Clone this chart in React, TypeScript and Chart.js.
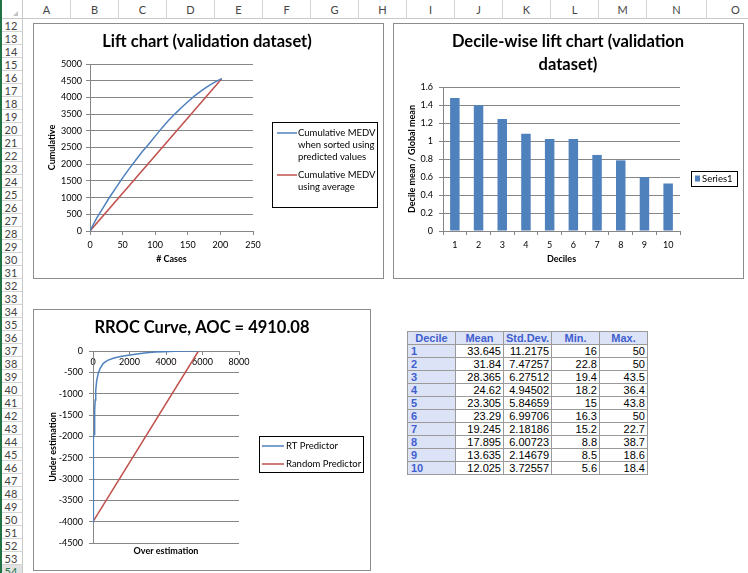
import React, { useEffect, useRef } from 'react';
import { Chart, registerables } from 'chart.js';

Chart.register(...registerables);

const FONT = 'Lato, "Noto Sans", sans-serif';
Chart.defaults.font.family = FONT;
Chart.defaults.color = '#000';

const GRID = '#868686';
const BLUE = '#4F81BD';
const RED = '#C0504D';
const TITLE_SIZE = 16.5;

// ---- Lift chart (validation dataset) ----
const LIFT_SERIES = ['Cumulative MEDV when sorted using predicted values', 'Cumulative MEDV using average'];
const LIFT_CASES = [0, 10, 20, 30, 40, 50, 60, 70, 80, 90, 100, 110, 120, 130, 140, 150, 160, 170, 180, 190, 202];
const LIFT_CUMULATIVE = [0, 380, 690, 1010, 1300, 1590, 1860, 2120, 2370, 2600, 2840, 3080, 3300, 3500, 3690, 3870, 4040, 4190, 4320, 4440, 4560];
const AVERAGE_CASES = [0, 202];
const AVERAGE_CUMULATIVE = [0, 4560];

// ---- Decile-wise lift chart ----
const DECILES = ['1', '2', '3', '4', '5', '6', '7', '8', '9', '10'];
const DECILE_LIFT = [1.477, 1.397, 1.245, 1.080, 1.023, 1.022, 0.845, 0.785, 0.598, 0.528];
const DECILE_SERIES = 'Series1';

// ---- RROC curve ----
const RROC_SERIES = ['RT Predictor', 'Random Predictor'];
const RT_OVER = [0, 0, 40, 60, 80, 100, 120, 150, 200, 290, 400, 565, 800, 1110, 1500, 2030, 2500, 2940, 3400, 3850, 4500, 5200, 5780];
const RT_UNDER = [-4000, -2400, -2050, -1950, -1700, -1400, -1150, -920, -700, -520, -400, -290, -220, -172, -130, -94, -62, -39, -25, -15, -7, -2, 0];
const RANDOM_OVER = [0, 5780];
const RANDOM_UNDER = [-4000, 0];

// ---- Decile summary table ----
const TABLE_HEADERS = ['Decile', 'Mean', 'Std.Dev.', 'Min.', 'Max.'];
const TABLE_DECILE = [1, 2, 3, 4, 5, 6, 7, 8, 9, 10];
const TABLE_MEAN = [33.645, 31.84, 28.365, 24.62, 23.305, 23.29, 19.245, 17.895, 13.635, 12.025];
const TABLE_STD = [11.2175, 7.47257, 6.27512, 4.94502, 5.84659, 6.99706, 2.18186, 6.00723, 2.14679, 3.72557];
const TABLE_MIN = [16, 22.8, 19.4, 18.2, 15, 16.3, 15.2, 8.8, 8.5, 5.6];
const TABLE_MAX = [50, 50, 43.5, 36.4, 43.8, 50, 22.7, 38.7, 18.6, 18.4];

// ---- Worksheet frame ----
const COLUMN_LETTERS = ['A', 'B', 'C', 'D', 'E', 'F', 'G', 'H', 'I', 'J', 'K', 'L', 'M', 'N', 'O'];
const COLUMN_EDGES = [23, 71, 119, 167, 215, 263, 311, 359, 407, 455, 503, 551, 599, 647, 707, 765];
const ROW_NUMBERS = Array.from({ length: 43 }, (_, i) => 12 + i);
const SELECTED_ROW = 54;

function wrapText(ctx: CanvasRenderingContext2D, text: string, maxWidth: number): string[] {
  const words = text.split(' ');
  const lines: string[] = [];
  let cur = '';
  for (const w of words) {
    const test = cur ? cur + ' ' + w : w;
    if (cur && ctx.measureText(test).width > maxWidth) {
      lines.push(cur);
      cur = w;
    } else {
      cur = test;
    }
  }
  if (cur) lines.push(cur);
  return lines;
}

// Draws the chart title and the boxed legend in the Excel style.
const chartDecor = {
  id: 'chartDecor',
  afterDraw(chart: any, _args: any, opts: any) {
    const ctx: CanvasRenderingContext2D = chart.ctx;
    ctx.save();
    ctx.textBaseline = 'middle';
    const t = opts.title;
    if (t) {
      ctx.fillStyle = '#000';
      ctx.font = `bold ${t.size}px ${FONT}`;
      ctx.textAlign = 'center';
      const lines: string[] = t.lines;
      for (let i = 0; i < lines.length; i++) ctx.fillText(lines[i], t.x, t.y + i * t.lineHeight);
    }
    const lg = opts.legend;
    if (lg) {
      ctx.lineWidth = 1;
      ctx.strokeStyle = '#000';
      ctx.strokeRect(lg.x + 0.5, lg.y + 0.5, lg.w, lg.h);
      ctx.font = `${lg.size}px ${FONT}`;
      ctx.textAlign = 'left';
      let y = lg.y + lg.first;
      chart.data.datasets.forEach((ds: any) => {
        const lines = wrapText(ctx, ds.label, lg.wrap);
        if (lg.marker === 'box') {
          ctx.fillStyle = ds.backgroundColor;
          ctx.fillRect(lg.x + lg.mx0, y - 3, lg.mx1 - lg.mx0, 6);
        } else {
          ctx.strokeStyle = ds.borderColor;
          ctx.lineWidth = 1.5;
          ctx.beginPath();
          ctx.moveTo(lg.x + lg.mx0, y);
          ctx.lineTo(lg.x + lg.mx1, y);
          ctx.stroke();
        }
        ctx.fillStyle = '#000';
        lines.forEach((ln, i) => ctx.fillText(ln, lg.x + lg.tx, y + i * lg.lineHeight));
        y += lines.length * lg.lineHeight + lg.gap;
      });
    }
    ctx.restore();
  },
};

const TICK_FONT = { size: 9 };
const AXIS_TITLE_FONT = { size: 9, weight: 'bold' as const };
const plain = (v: any) => String(v);

function liftConfig(): any {
  return {
    type: 'scatter',
    data: {
      datasets: [
        {
          label: LIFT_SERIES[0],
          data: LIFT_CASES.map((x, i) => ({ x, y: LIFT_CUMULATIVE[i] })),
          showLine: true, borderColor: BLUE, backgroundColor: BLUE, borderWidth: 1.5, pointRadius: 0,
        },
        {
          label: LIFT_SERIES[1],
          data: AVERAGE_CASES.map((x, i) => ({ x, y: AVERAGE_CUMULATIVE[i] })),
          showLine: true, borderColor: RED, backgroundColor: RED, borderWidth: 1.5, pointRadius: 0,
        },
      ],
    },
    options: {
      responsive: false, animation: false, devicePixelRatio: 1,
      layout: { padding: { left: 4, top: 40, right: 130, bottom: 4 } },
      plugins: {
        legend: { display: false }, title: { display: false }, tooltip: { enabled: false },
        chartDecor: {
          title: { lines: ['Lift chart (validation dataset)'], x: 173, y: 18, size: TITLE_SIZE, lineHeight: 23 },
          legend: { x: 238, y: 98, w: 105, h: 85, first: 11, size: 9.5, wrap: 78, lineHeight: 12, gap: 6, marker: 'line', mx0: 5, mx1: 25, tx: 26 },
        },
      },
      scales: {
        x: {
          type: 'linear', min: 0, max: 250,
          afterFit: (s: any) => { s.height = 43; },
          ticks: { stepSize: 50, padding: 5, font: TICK_FONT, callback: plain },
          grid: { drawOnChartArea: false, tickLength: 4, color: GRID },
          border: { color: GRID },
          title: { display: true, text: '# Cases', font: AXIS_TITLE_FONT, padding: { top: 0, bottom: 9.6 } },
        },
        y: {
          type: 'linear', min: 0, max: 5000,
          afterFit: (s: any) => { s.width = 52; },
          ticks: { stepSize: 500, padding: 4, font: TICK_FONT, callback: plain },
          grid: { color: GRID, tickLength: 4 },
          border: { color: GRID },
          title: { display: true, text: 'Cumulative', font: AXIS_TITLE_FONT, padding: { top: 8.6, bottom: 0 } },
        },
      },
    },
    plugins: [chartDecor],
  };
}

function decileConfig(): any {
  return {
    type: 'bar',
    data: {
      labels: DECILES,
      datasets: [
        { label: DECILE_SERIES, data: DECILE_LIFT, backgroundColor: BLUE, borderColor: BLUE, barPercentage: 0.4, categoryPercentage: 1 },
      ],
    },
    options: {
      responsive: false, animation: false, devicePixelRatio: 1,
      layout: { padding: { left: 4, top: 63, right: 63, bottom: 4 } },
      plugins: {
        legend: { display: false }, title: { display: false }, tooltip: { enabled: false },
        chartDecor: {
          title: { lines: ['Decile-wise lift chart (validation', 'dataset)'], x: 174, y: 18, size: TITLE_SIZE, lineHeight: 23 },
          legend: { x: 297, y: 147, w: 46, h: 15, first: 7.5, size: 9.5, wrap: 60, lineHeight: 12, gap: 0, marker: 'box', mx0: 4, mx1: 9, tx: 11 },
        },
      },
      scales: {
        x: {
          afterFit: (s: any) => { s.height = 43; },
          ticks: { padding: 4.5, font: TICK_FONT },
          grid: { offset: true, drawOnChartArea: false, tickLength: 4, color: GRID },
          border: { color: GRID },
          title: { display: true, text: 'Deciles', font: AXIS_TITLE_FONT, padding: { top: 0, bottom: 9.6 } },
        },
        y: {
          min: 0, max: 1.6,
          afterFit: (s: any) => { s.width = 45; },
          ticks: { stepSize: 0.2, padding: 6, font: TICK_FONT, callback: (v: number) => String(Math.round(v * 10) / 10) },
          grid: { color: GRID, tickLength: 4 },
          border: { color: GRID },
          title: { display: true, text: 'Decile mean / Global mean', font: AXIS_TITLE_FONT, padding: { top: 8.6, bottom: 0 } },
        },
      },
    },
    plugins: [chartDecor],
  };
}

function rrocConfig(): any {
  return {
    type: 'scatter',
    data: {
      datasets: [
        {
          label: RROC_SERIES[0],
          data: RT_OVER.map((x, i) => ({ x, y: RT_UNDER[i] })),
          showLine: true, borderColor: BLUE, backgroundColor: BLUE, borderWidth: 1.5, pointRadius: 0,
        },
        {
          label: RROC_SERIES[1],
          data: RANDOM_OVER.map((x, i) => ({ x, y: RANDOM_UNDER[i] })),
          showLine: true, borderColor: RED, backgroundColor: RED, borderWidth: 1.5, pointRadius: 0,
        },
      ],
    },
    options: {
      responsive: false, animation: false, devicePixelRatio: 1,
      layout: { padding: { left: 4, top: 41, right: 131, bottom: 4 } },
      plugins: {
        legend: { display: false }, title: { display: false }, tooltip: { enabled: false },
        chartDecor: {
          title: { lines: ['RROC Curve, AOC = 4910.08'], x: 168, y: 18, size: TITLE_SIZE, lineHeight: 23 },
          legend: { x: 225, y: 126, w: 104, h: 36, first: 10, size: 9.5, wrap: 80, lineHeight: 12, gap: 6, marker: 'line', mx0: 3, mx1: 25, tx: 27 },
        },
      },
      scales: {
        x: {
          type: 'linear', min: 0, max: 8000,
          afterFit: (s: any) => { s.height = 23; },
          ticks: { display: false, stepSize: 2000 },
          grid: { display: false },
          border: { display: false },
          title: { display: true, text: 'Over estimation', font: AXIS_TITLE_FONT, padding: { top: 0, bottom: 9.6 } },
        },
        xTop: {
          axis: 'x', type: 'linear', min: 0, max: 8000, position: { y: 0 },
          ticks: { stepSize: 2000, padding: 3, font: TICK_FONT, callback: plain },
          grid: { drawOnChartArea: false, tickLength: 3, color: GRID },
          border: { color: GRID },
        },
        y: {
          type: 'linear', min: -4500, max: 0,
          afterFit: (s: any) => { s.width = 55; },
          ticks: { stepSize: 500, padding: 6, font: TICK_FONT, callback: plain },
          grid: { color: GRID, tickLength: 4 },
          border: { color: GRID },
          title: { display: true, text: 'Under estimation', font: AXIS_TITLE_FONT, padding: { top: 9.6, bottom: 0 } },
        },
      },
    },
    plugins: [chartDecor],
  };
}

function ChartBox(props: { left: number; top: number; width: number; height: number; make: () => any }) {
  const { left, top, width, height, make } = props;
  const ref = useRef<HTMLCanvasElement>(null);
  useEffect(() => {
    const chart = new Chart(ref.current as HTMLCanvasElement, make());
    return () => chart.destroy();
  }, []);
  const cw = width - 2;
  const ch = height - 2;
  return (
    <div style={{ position: 'absolute', left, top, width, height, border: '1px solid #8c8c8c', boxSizing: 'border-box', background: '#fff' }}>
      <canvas ref={ref} width={cw} height={ch} style={{ display: 'block', width: cw, height: ch }} />
    </div>
  );
}

function SheetFrame() {
  const items: React.ReactNode[] = [];
  items.push(
    <div key="corner" style={{ position: 'absolute', left: 0, top: 0, width: 23, height: 19, borderRight: '1px solid #c8c8c8', borderBottom: '1px solid #c8c8c8', boxSizing: 'border-box' }}>
      <div style={{ position: 'absolute', left: 13, top: 11, width: 0, height: 0, borderLeft: '5px solid transparent', borderBottom: '5px solid #c4c4c4' }} />
    </div>
  );
  COLUMN_LETTERS.forEach((c, i) => {
    const l = COLUMN_EDGES[i];
    const r = COLUMN_EDGES[i + 1];
    items.push(
      <div key={c} style={{ position: 'absolute', left: l, top: 0, width: r - l, height: 19, borderRight: '1px solid #d4d4d4', borderBottom: '1px solid #c8c8c8', boxSizing: 'border-box', textAlign: 'center', fontSize: 11, lineHeight: '20px', color: '#444' }}>{c}</div>
    );
  });
  ROW_NUMBERS.forEach((r, i) => {
    const sel = r === SELECTED_ROW;
    items.push(
      <div key={'r' + r} style={{ position: 'absolute', left: 0, top: 19 + i * 13, width: 23, height: 13, borderRight: '1px solid #c8c8c8', borderBottom: '1px solid #d4d4d4', boxSizing: 'border-box', textAlign: 'center', fontSize: 11, lineHeight: '13px', color: sel ? '#217346' : '#444', background: sel ? '#e1e1e1' : '#fff' }}>{r}</div>
    );
  });
  items.push(<div key="edge" style={{ position: 'absolute', left: 0, top: 0, width: 2, height: 573, background: '#217346' }} />);
  return <>{items}</>;
}

function DecileTable() {
  const head = '#dde3f6';
  const blue = '#3f5fcf';
  const cell = (content: React.ReactNode, key: string, style: React.CSSProperties) => (
    <div key={key} style={{ borderRight: '1px solid #9a9a9a', borderBottom: '1px solid #9a9a9a', boxSizing: 'border-box', height: 13, lineHeight: '12px', whiteSpace: 'nowrap', overflow: 'hidden', ...style }}>{content}</div>
  );
  const cells: React.ReactNode[] = [];
  TABLE_HEADERS.forEach((h, i) => cells.push(cell(h, 'h' + i, { background: head, color: blue, fontWeight: 'bold', textAlign: 'center' })));
  TABLE_DECILE.forEach((d, i) => {
    cells.push(cell(d, 'd' + i, { background: head, color: blue, fontWeight: 'bold', textAlign: 'left', paddingLeft: 3 }));
    [TABLE_MEAN[i], TABLE_STD[i], TABLE_MIN[i], TABLE_MAX[i]].forEach((v, j) =>
      cells.push(cell(String(v), 'v' + i + '_' + j, { textAlign: 'right', paddingRight: 2, color: '#000' }))
    );
  });
  return (
    <div style={{ position: 'absolute', left: 407, top: 331, display: 'grid', gridTemplateColumns: 'repeat(5, 48px)', gridAutoRows: '13px', borderLeft: '1px solid #9a9a9a', borderTop: '1px solid #9a9a9a', fontFamily: '"Liberation Sans", Arial, sans-serif', fontSize: 11 }}>
      {cells}
    </div>
  );
}

export default function App() {
  return (
    <div style={{ position: 'absolute', left: 0, top: 0, width: 748, height: 573, overflow: 'hidden', background: '#fff', fontFamily: FONT }}>
      <SheetFrame />
      <ChartBox left={33} top={23} width={351} height={256} make={liftConfig} />
      <ChartBox left={393} top={23} width={351} height={256} make={decileConfig} />
      <ChartBox left={33} top={309} width={338} height={262} make={rrocConfig} />
      <DecileTable />
    </div>
  );
}
